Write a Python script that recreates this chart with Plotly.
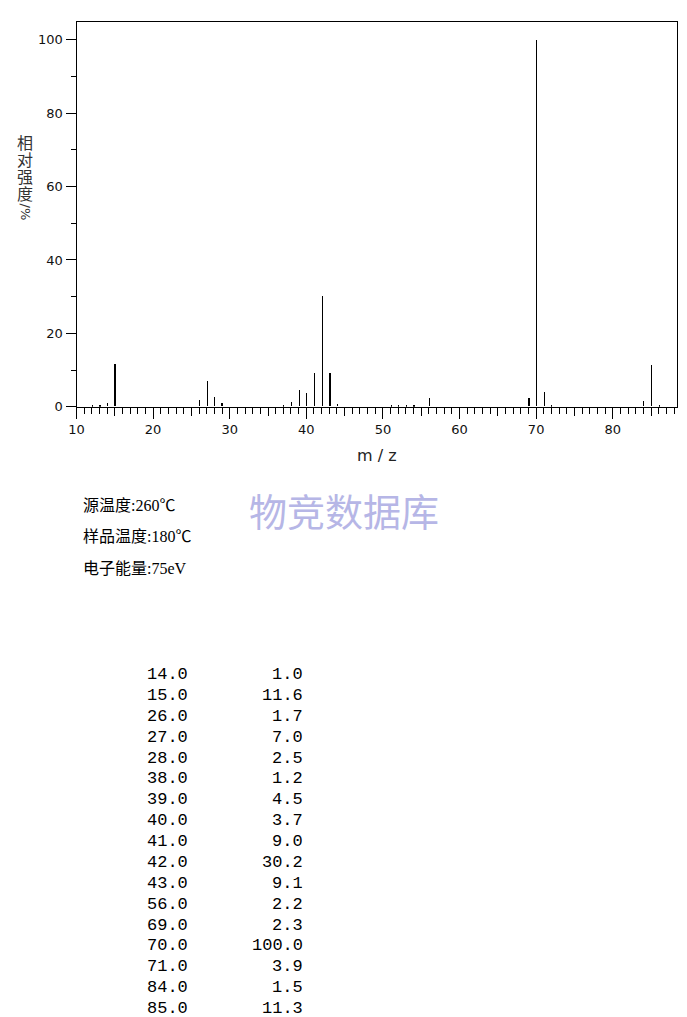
import plotly.graph_objects as go

# ---------------- data ----------------
# peaks listed in the table (m/z, relative intensity %)
table_mz = [14.0, 15.0, 26.0, 27.0, 28.0, 38.0, 39.0, 40.0, 41.0, 42.0,
            43.0, 56.0, 69.0, 70.0, 71.0, 84.0, 85.0]
table_int = [1.0, 11.6, 1.7, 7.0, 2.5, 1.2, 4.5, 3.7, 9.0, 30.2,
             9.1, 2.2, 2.3, 100.0, 3.9, 1.5, 11.3]
# small peaks visible in the plot but not in the table (estimated)
minor_mz = [12, 13, 29, 37, 44, 51, 52, 53, 54, 72, 86]
minor_int = [0.4, 0.3, 0.8, 0.5, 0.6, 0.4, 0.4, 0.4, 0.4, 0.3, 0.5]

info_lines = ["源温度:260℃", "样品温度:180℃", "电子能量:75eV"]
watermark = "物竞数据库"
y_title_chars = ["相", "对", "强", "度"]
y_title_tail = "/%"
x_title = "m / z"

# ---------------- style ----------------
W, H = 687, 1017
PX_PER_UNIT = (677.3 - 76.5) / (88.43 - 10)
thick_peaks = {15, 29, 43}
thin_w = 0.12 / PX_PER_UNIT
thick_w = 1.3 / PX_PER_UNIT


def px(x):
    return x / W


def py(y):
    return 1 - y / H


all_mz = table_mz + minor_mz
all_int = table_int + minor_int
widths = [thick_w if int(m) in thick_peaks else thin_w for m in all_mz]

fig = go.Figure()
fig.add_trace(go.Bar(
    x=all_mz, y=all_int, width=widths,
    marker=dict(color="black", line=dict(width=0)),
    showlegend=False, hoverinfo="skip",
))
# invisible trace for the secondary tick axis (5-unit ticks)
fig.add_trace(go.Scatter(x=[10], y=[0], xaxis="x2", mode="markers",
                         marker=dict(opacity=0), showlegend=False,
                         hoverinfo="skip"))

xdom = [px(76.5), px(677.3)]
ydom = [py(406.7), py(22.3)]
tick_font = dict(family="DejaVu Sans", size=13, color="#111")

fig.update_layout(
    width=W, height=H,
    margin=dict(l=0, r=0, t=0, b=0, pad=0, autoexpand=False),
    paper_bgcolor="white", plot_bgcolor="white",
    bargap=0,
    xaxis=dict(
        domain=xdom, range=[10, 88.43], anchor="y", automargin=False,
        showgrid=False, zeroline=False,
        showline=True, linecolor="black", linewidth=1, mirror=True,
        ticks="outside", ticklen=11, tickwidth=1, tickcolor="black",
        tick0=10, dtick=10, tickfont=tick_font,
        minor=dict(dtick=1, tick0=10, ticklen=6, tickwidth=1,
                   tickcolor="black", ticks="outside", showgrid=False),
        fixedrange=True,
    ),
    xaxis2=dict(
        domain=xdom, range=[10, 88.43], anchor="y", overlaying="x",
        automargin=False,
        side="bottom", showgrid=False, zeroline=False, showline=False,
        ticks="outside", ticklen=8, tickwidth=1, tickcolor="black",
        tick0=10, dtick=5, showticklabels=False,
    ),
    yaxis=dict(
        domain=ydom, range=[0, 104.8], anchor="x", automargin=False,
        showgrid=False, zeroline=False,
        showline=True, linecolor="black", linewidth=1, mirror=True,
        ticks="outside", ticklen=10, tickwidth=1, tickcolor="black",
        tick0=0, dtick=20, tickfont=tick_font,
        minor=dict(dtick=10, tick0=0, ticklen=5, tickwidth=1,
                   tickcolor="black", ticks="outside", showgrid=False),
        fixedrange=True,
    ),
)

ann = []
# y-axis title: stacked CJK characters (one text, tight line spacing)
stack = "<br>".join(f"<span style='font-size:16px'>{c}</span>"
                    for c in y_title_chars)
ann.append(dict(text=stack, x=px(25), y=py(167), xref="paper", yref="paper",
                xanchor="center", yanchor="middle", showarrow=False,
                borderpad=0,
                font=dict(family="Noto Sans CJK SC", size=13, color="#333")))
ann.append(dict(text=y_title_tail, x=px(24.5), y=py(212), xref="paper",
                yref="paper", xanchor="center", yanchor="middle",
                showarrow=False, textangle=90, borderpad=0,
                font=dict(family="DejaVu Sans", size=13, color="#333")))
# x-axis title
ann.append(dict(text=x_title, x=px(376.5), y=py(455), xref="paper",
                yref="paper", xanchor="center", yanchor="middle",
                showarrow=False,
                font=dict(family="DejaVu Sans", size=16, color="#222")))
# info lines
info_y = [505, 536.7, 568]
for t, yy in zip(info_lines, info_y):
    ann.append(dict(text=t, x=px(81), y=py(yy), xref="paper", yref="paper",
                    xanchor="left", yanchor="middle", showarrow=False,
                    font=dict(family="Liberation Serif, Noto Sans CJK SC",
                              size=16, color="black")))
# watermark
ann.append(dict(text=watermark, x=px(344), y=py(510), xref="paper",
                yref="paper", xanchor="center", yanchor="middle",
                showarrow=False,
                font=dict(family="Noto Sans CJK SC", size=38,
                          color="rgb(182,182,230)")))
# peak table
row0, row_last = 674.5, 1008.5
row_step = (row_last - row0) / (len(table_mz) - 1)
mono = dict(family="Liberation Mono", size=17, color="black")
for i, (m, v) in enumerate(zip(table_mz, table_int)):
    yy = py(row0 + i * row_step)
    ann.append(dict(text=f"{m:.1f}", x=px(146), y=yy, xref="paper",
                    yref="paper", xanchor="left", yanchor="middle",
                    showarrow=False, borderpad=0, height=19, font=mono))
    ann.append(dict(text=f"{v:.1f}", x=px(304), y=yy, xref="paper",
                    yref="paper", xanchor="right", yanchor="middle",
                    showarrow=False, borderpad=0, height=19, font=mono))

fig.update_layout(annotations=ann)
fig.write_html(
    "out.html",
    config={"displayModeBar": False},
    post_script="document.body.style.margin='0';"
                "document.body.style.overflow='hidden';",
)
